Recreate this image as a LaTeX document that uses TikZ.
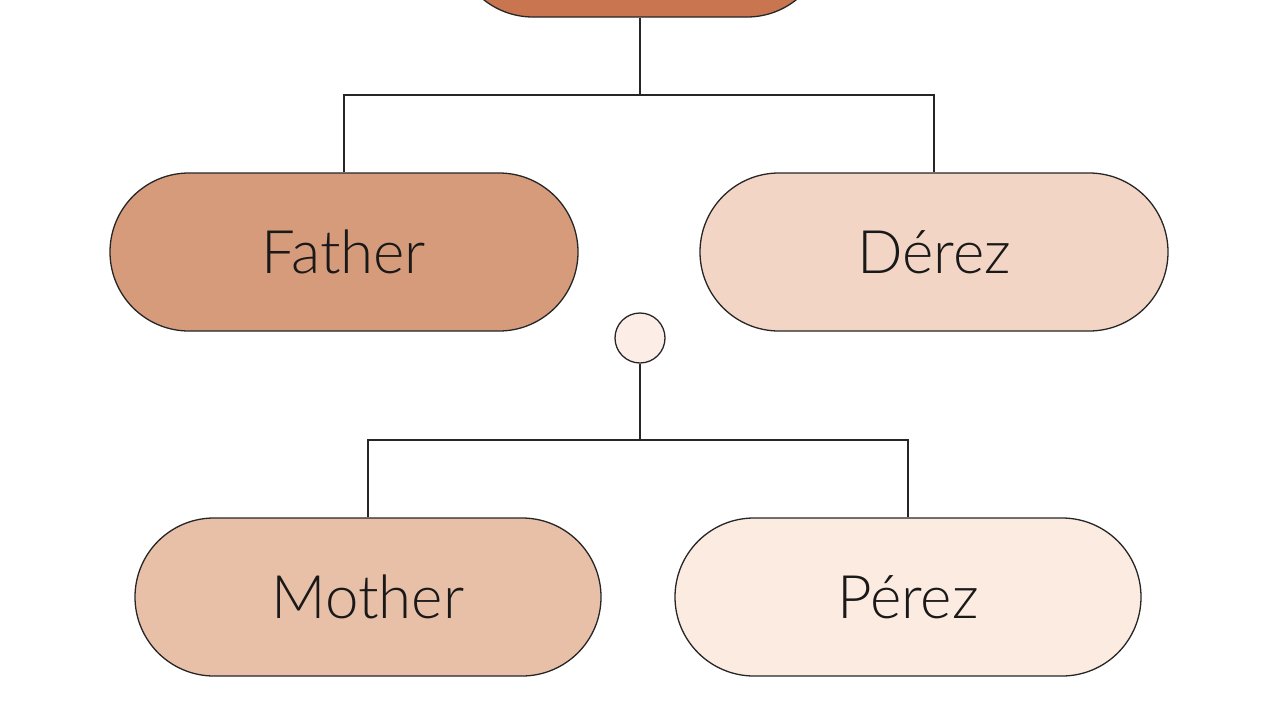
\documentclass[tikz,border=0pt]{standalone}
\usepackage{fontspec}
\setmainfont{Lato}[UprightFont=* Light]
\usepackage[x11names,svgnames,dvipsnames]{xcolor}
\definecolor{rootc}{HTML}{C87550}
\definecolor{fatherc}{HTML}{D69B7A}
\definecolor{derezc}{HTML}{F3D5C5}
\definecolor{motherc}{HTML}{E8C0A8}
\definecolor{perezc}{HTML}{FCEBE0}
\definecolor{knotc}{HTML}{FCEEE6}
\begin{document}
\begin{tikzpicture}[x=1pt,y=-1pt,
    pill/.style={draw=black!85,line width=1.3pt,rounded corners=79pt,
        minimum width=468pt,minimum height=158pt,
        font=\fontsize{60}{70}\selectfont,text=black!90},
    link/.style={draw=black!85,line width=1.3pt}]
    \useasboundingbox (0,0) rectangle (1280,720);
    \node[pill,fill=rootc,minimum width=372pt] (root) at (640,-62) {};
    \node[pill,fill=fatherc] (father) at (344,252) {Father};
    \node[pill,fill=derezc] (derez) at (934,252) {Dérez};
    \node[circle,draw=black!85,line width=1.3pt,fill=knotc,minimum size=50pt,inner sep=0pt] (knot) at (640,338) {};
    \node[pill,fill=motherc,minimum width=466pt] (mother) at (368,597) {Mother};
    \node[pill,fill=perezc,minimum width=466pt] (perez) at (908,597) {Pérez};
    % links
    \coordinate (topbar) at (640,95);
    \coordinate (lowbar) at (640,440);
    \draw[link] (root.south) -- (topbar);
    \draw[link] (father.north) |- (topbar) -| (derez.north);
    \draw[link] (knot.south) -- (lowbar);
    \draw[link] (mother.north) |- (lowbar) -| (perez.north);
\end{tikzpicture}
\end{document}
